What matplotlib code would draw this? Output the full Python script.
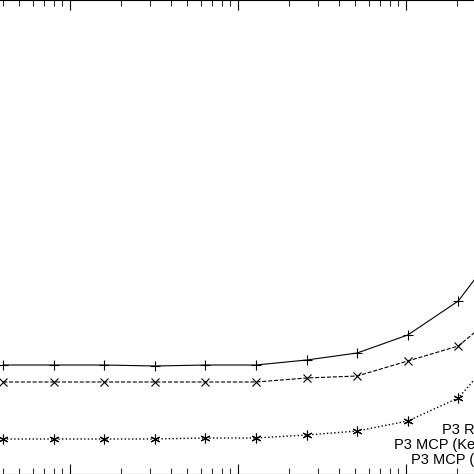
import matplotlib
matplotlib.use("Agg")
import matplotlib.pyplot as plt
from matplotlib.ticker import LogLocator, NullFormatter

x = [4, 8, 16, 32, 64, 128, 256, 512, 1024, 2048, 4096]
# y values in arbitrary units (0 = bottom of visible area)
y_rcp = [109, 109, 109, 108, 109, 109, 114, 121, 139, 173, 240]
y_kernel = [92, 92, 92, 92, 92, 92, 96, 98, 113, 128, 170]
y_third = [35, 35, 35, 35, 36, 36, 39, 43, 53, 76, 134]
labels = ["P3 RCP", "P3 MCP (Kernel)", "P3 MCP (User)"]

plt.rcParams['font.family'] = ['Liberation Sans', 'DejaVu Sans']
fig = plt.figure(figsize=(4.74, 4.74), dpi=100)
ax = fig.add_axes([0, 0, 1, 1])
ax.plot(x, y_rcp, '-', color='black', lw=0.8, marker='+', ms=7, mew=0.8)
ax.plot(x, y_kernel, '--', color='black', lw=0.8, marker='x', ms=6, mew=0.8)
ax.plot(x, y_third, ':', color='black', lw=1.0, marker=(6, 2, 0), ms=7, mew=0.8)
ax.set_xscale('log')
ax.set_xlim(10 ** (1 - 70 / 168), 10 ** (1 + 404 / 168))
ax.set_ylim(0, 474)
ax.xaxis.set_major_locator(LogLocator(base=10))
ax.xaxis.set_minor_locator(LogLocator(base=10, subs=range(2, 10)))
ax.xaxis.set_major_formatter(NullFormatter())
ax.xaxis.set_minor_formatter(NullFormatter())
ax.tick_params(axis='x', which='both', direction='in', top=True, bottom=True)
ax.tick_params(axis='x', which='major', length=7, width=0.8)
ax.tick_params(axis='x', which='minor', length=4, width=0.6)
ax.set_yticks([])
for s in ['left', 'right']:
    ax.spines[s].set_visible(False)
for s in ['top', 'bottom']:
    ax.spines[s].set_linewidth(0.8)
for lab, (px, py) in zip(labels, [(442, 430), (394, 445), (411, 460)]):
    fig.text(px / 474, 1 - py / 474, lab, fontsize=10.5, ha='left', va='center')
fig.savefig("out.png", dpi=100)
